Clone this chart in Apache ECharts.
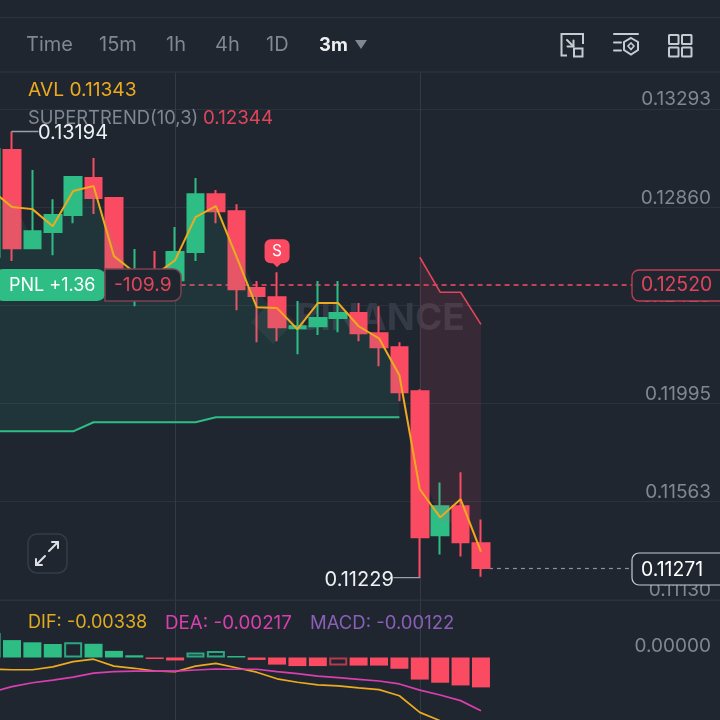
<!DOCTYPE html>
<html><head><meta charset="utf-8">
<style>html,body{margin:0;padding:0;background:#1f2630}#c{width:720px;height:720px}</style>
<script src="https://cdn.jsdelivr.net/npm/echarts@6/dist/echarts.min.js"></script>
</head><body><div id="c"></div>
<script>
const opens  = [.12641,.13112,.12680,.12751,.12826,.12989,.12901,.12526,.12561,.12539,.12663,.12918,.12843,.12504,.12464,.12327,.12336,.12372,.12394,.12305,.12244,.12050,.11415,.11543,.11380];
const closes = [.13117,.12680,.12755,.12826,.12993,.12901,.12526,.12561,.12539,.12663,.12918,.12843,.12499,.12469,.12332,.12336,.12372,.12394,.12305,.12244,.12045,.11406,.11543,.11384,.11271];
const lows   = [.12641,.12623,.12680,.12649,.12790,.12830,.12486,.12424,.12469,.12517,.12623,.12790,.12407,.12266,.12270,.12213,.12297,.12310,.12270,.12160,.12006,.11229,.11331,.11322,.11232];
const highs  = [.13117,.13194,.13024,.12896,.12998,.13077,.12901,.12676,.12667,.12773,.12989,.12936,.12874,.12535,.12574,.12447,.12535,.12535,.12438,.12424,.12266,.12059,.11648,.11693,.11485];
const avl    = [.12936,.12861,.12852,.12777,.12932,.12954,.12645,.12574,.12561,.12627,.12817,.12865,.12645,.12420,.12416,.12323,.12438,.12438,.12336,.12283,.12120,.11618,.11494,.11574,.11343];
const trendUp   = [.11873,.11873,.11873,.11873,.11873,.11913,.11913,.11913,.11913,.11913,.11913,.11935,.11935,.11935,.11935,.11935,.11935,.11935,.11935,.11935,.11935,null,null,null,null];
const trendDown = [null,null,null,null,null,null,null,null,null,null,null,null,null,null,null,null,null,null,null,null,null,.12640,.12486,.12486,.12344];
const bodyMid   = [.12878,.12896,.12718,.12788,.12909,.12945,.12715,.12544,.12552,.12601,.12790,.12881,.12671,.12486,.12398,.12332,.12354,.12383,.12350,.12275,.12145,.11728,.11479,.11463,.11322];
const macd = [.00100,.00071,.00062,.00055,.00062,.00056,.00027,.00009,-.00006,-.00012,.00020,.00027,.00006,-.00010,-.00029,-.00035,-.00035,-.00033,-.00033,-.00033,-.00046,-.00090,-.00103,-.00114,-.00122];
const macdHollow = [4,10,11,17];
const dif = [-.00047,-.00050,-.00050,-.00038,-.00017,-.00007,-.00035,-.00044,-.00055,-.00058,-.00035,-.00024,-.00042,-.00060,-.00087,-.00101,-.00112,-.00116,-.00124,-.00131,-.00156,-.00224,-.00258,-.00304,-.00338];
const dea = [-.00141,-.00119,-.00103,-.00092,-.00080,-.00064,-.00058,-.00056,-.00056,-.00056,-.00051,-.00047,-.00048,-.00048,-.00058,-.00066,-.00076,-.00082,-.00089,-.00096,-.00108,-.00133,-.00153,-.00176,-.00217];
const priceTicks = [.13293,.12860,.12428,.11995,.11563,.11130];
const tabs = ['Time','15m','1h','4h','1D'];
const entryPrice = .12520, lastPrice = .11271, hiPrice = .13194, loPrice = .11229;

const BG='#1f2630', GRID='#2b323d', RED='#fb4b63', GREEN='#2ebd85', YEL='#eeaa1f', GRAY='#7f8791', FONT='Inter, "Noto Sans", sans-serif';
const slots = 37, cats = Array.from({length:slots},(_,i)=>String(i));
const gaps = a => a.map(v=>v==null?'-':v);
const candles = opens.map((o,i)=>[o,closes[i],lows[i],highs[i]]);
const vLines = () => ({silent:true,symbol:'none',z:1,label:{show:false},lineStyle:{color:'#333a45',width:1,type:'solid'},data:[{xAxis:9},{xAxis:21}]});
const diff = (up,lo)=>up.map((v,i)=>(v==null||lo[i]==null)?null:v-lo[i]);
const redBase = bodyMid.map((v,i)=>trendDown[i]==null?null:v);

const option = {
  animation:false, backgroundColor:BG,
  grid:[{left:-18.6,top:72,width:754.43,height:528,outerBoundsMode:'none'},{left:-18.6,top:600,width:754.43,height:120,outerBoundsMode:'none'}],
  xAxis:[
    {type:'category',gridIndex:0,data:cats,show:false,boundaryGap:true},
    {type:'category',gridIndex:1,data:cats,show:false,boundaryGap:true}
  ],
  yAxis:[
    {type:'value',gridIndex:0,position:'right',offset:-15.8,min:.1113,max:.134561,
     axisLine:{show:false},axisTick:{show:false,customValues:priceTicks},
     splitLine:{show:true,lineStyle:{color:GRID,width:1}},
     axisLabel:{inside:true,customValues:priceTicks,color:GRAY,fontSize:19,fontFamily:FONT,margin:9,
       verticalAlign:'bottom',padding:[0,0,0,0],formatter:v=>v.toFixed(5)}},
    {type:'value',gridIndex:1,position:'right',offset:-15.8,min:-.002551,max:.002347,
     axisLine:{show:false},axisTick:{show:false,customValues:[0]},splitLine:{show:false},
     axisLabel:{inside:true,customValues:[0],color:GRAY,fontSize:19,fontFamily:FONT,margin:9,
       verticalAlign:'bottom',padding:[0,0,2,0],formatter:v=>v.toFixed(5)}}
  ],
  series:[
    {type:'line',name:'guides',data:[],z:1,markLine:vLines()},
    {type:'line',name:'levels',data:[],xAxisIndex:0,yAxisIndex:0,z:1,markLine:{silent:true,symbol:'none',z:1,label:{show:false},
      data:[
        [{coord:[0,entryPrice],lineStyle:{color:RED,type:[5,4],width:1.5}},{coord:[36,entryPrice]}],
        [{coord:[24,lastPrice],lineStyle:{color:'#8b929b',type:[4,4],width:1.2}},{coord:[36,lastPrice]}]
      ]}},
    {type:'candlestick',name:'price',data:candles,barWidth:17,z:2,
     itemStyle:{color:GREEN,color0:RED,borderColor:GREEN,borderColor0:RED,borderWidth:2}},
    {type:'line',name:'upLine',data:gaps(trendUp),stack:'up',symbol:'none',z:3,lineStyle:{color:GREEN,width:2}},
    {type:'line',name:'upFill',data:gaps(diff(bodyMid,trendUp)),stack:'up',symbol:'none',z:3,lineStyle:{width:0,opacity:0},areaStyle:{color:'rgba(46,189,133,0.10)',opacity:1}},
    {type:'line',name:'downBase',data:gaps(redBase),stack:'down',symbol:'none',z:3,lineStyle:{width:0,opacity:0}},
    {type:'line',name:'downFill',data:gaps(diff(trendDown,redBase)),stack:'down',symbol:'none',z:3,lineStyle:{width:0,opacity:0},areaStyle:{color:'rgba(251,75,99,0.11)',opacity:1}},
    {type:'line',name:'downLine',data:gaps(trendDown),symbol:'none',z:4,lineStyle:{color:'#e0455b',width:1.6}},
    {type:'line',name:'AVL',data:avl,symbol:'none',z:5,lineStyle:{color:YEL,width:2}},

    {type:'line',name:'guides2',xAxisIndex:1,yAxisIndex:1,data:[],z:1,markLine:vLines()},
    {type:'bar',name:'MACD',xAxisIndex:1,yAxisIndex:1,barWidth:18,z:2,
     data:macd.map((v,i)=>{
       const c=v>=0?GREEN:RED;
       return macdHollow.includes(i)
         ?{value:v,itemStyle:{color:BG,borderColor:v>=0?'#2aa880':'#b53a4f',borderWidth:2}}
         :{value:v,itemStyle:{color:c}};
     })},
    {type:'line',name:'DIF',xAxisIndex:1,yAxisIndex:1,data:dif,symbol:'none',z:3,lineStyle:{color:YEL,width:1.7}},
    {type:'line',name:'DEA',xAxisIndex:1,yAxisIndex:1,data:dea,symbol:'none',z:3,lineStyle:{color:'#d93fae',width:1.7}}
  ]
};
const chart = echarts.init(document.getElementById('c'),null,{renderer:'canvas'});
chart.setOption(option);

const px=(i,p)=>chart.convertToPixel({xAxisIndex:0,yAxisIndex:0},[i,p]);
const T=(x,y,text,fill,size,extra)=>({type:'text',z:60,x,y,style:Object.assign({text,fill,fontSize:size,fontFamily:FONT,verticalAlign:'middle',textAlign:'left'},extra||{})});
const L=(x1,y1,x2,y2,stroke,w,z)=>({type:'line',z:z||60,shape:{x1,y1,x2,y2},style:{stroke,lineWidth:w,lineCap:'round'}});
const R=(x,y,width,height,r,fill,stroke,w,z)=>({type:'rect',z:z||60,shape:{x,y,width,height,r},style:{fill,stroke,lineWidth:w||0}});
const ICON='#c6cbd2', ARROW='#dcdfe3';
const g=[];
g.push(L(0,17.5,720,17.5,GRID,1.2,1),L(0,72,720,72,GRID,1.5,1));
[[26],[99],[166],[215],[266]].forEach((p,i)=>g.push(T(p[0],45,tabs[i],GRAY,20)));
g.push(T(319,45,'3m','#eef0f2',18.5,{fontWeight:'bold'}));
g.push({type:'polygon',z:60,shape:{points:[[355,40],[367,40],[361,49]]},style:{fill:GRAY}});
g.push({type:'polyline',z:60,shape:{points:[[567,55.5],[561.5,55.5],[561.5,34],[583,34],[583,44]]},style:{stroke:ICON,lineWidth:2,fill:null}});
g.push(R(574,48.5,8.5,8,0,'transparent',ICON,2));
g.push(L(567,40,573,46,ICON,2),L(567.5,46.5,573.5,46.5,ICON,2),L(573.5,40.5,573.5,46.5,ICON,2));
g.push(L(614,34,638,34,ICON,2),L(614,42.5,621,42.5,ICON,2),L(614,50.5,621,50.5,ICON,2));
g.push({type:'polygon',z:60,shape:{points:[[631,38],[638,42],[638,50],[631,54.5],[624,50],[624,42]]},style:{stroke:ICON,lineWidth:2,fill:'transparent'}});
g.push({type:'polygon',z:60,shape:{points:[[631,43],[634,46],[631,49.5],[628,46]]},style:{stroke:ICON,lineWidth:1.6,fill:'transparent'}});
[[669,35],[682,35],[669,47.5],[682,47.5]].forEach(p=>g.push(R(p[0],p[1],9.5,9,0.5,'transparent',ICON,2)));
g.push(T(28,90.5,'AVL 0.11343',YEL,19.2));
g.push(T(28,118,'SUPERTREND(10,3)',GRAY,18.4),T(203,118,'0.12344','#e0455b',18.8));
g.push(T(28,623,'DIF: -0.00338','#e0ab1f',18.1),T(165,623,'DEA: -0.00217','#d93fae',18.8),T(310,623,'MACD: -0.00122','#8a5fb5',18.5));
[[273,322,22],[262,320,8],[284,320,8]].forEach(d=>g.push({type:'polygon',z:0,shape:{points:[[d[0],d[1]-d[2]],[d[0]+d[2],d[1]],[d[0],d[1]+d[2]],[d[0]-d[2],d[1]]]},style:{fill:'#2b323c'}}));
const wm=T(296,319,'BINANCE','#343b46',37,{fontWeight:'bold'}); wm.z=0; g.push(wm);
g.push(L(0,600,720,600,GRID,1,1));
const hi=px(1,hiPrice), lo=px(21,loPrice);
g.push(L(hi[0],hi[1],hi[0]+26,hi[1],'#9aa0a8',1.3),T(hi[0]+26,hi[1]+1,'0.13194','#eef0f2',20));
g.push(L(lo[0],lo[1],lo[0]-26,lo[1],'#9aa0a8',1.3),T(lo[0]-26,lo[1]+2,'0.11229','#eef0f2',20,{textAlign:'right'}));
const s=px(14,highs[14]);
g.push(R(s[0]-12.5,s[1]-33,25,24,6,RED,null,0),{type:'polygon',z:60,shape:{points:[[s[0]-5,s[1]-10],[s[0]+5,s[1]-10],[s[0],s[1]-5]]},style:{fill:RED}});
g.push(T(s[0],s[1]-21,'S','#ffffff',15.5,{textAlign:'center'}));
const e=px(0,entryPrice)[1];
g.push({type:'rect',z:60,shape:{x:-6,y:e-15.5,width:112,height:32,r:9},style:{fill:GREEN}});
g.push(R(105,e-15.5,76,32,[0,8,8,0],BG,'#7d4150',1.5));
g.push(T(9,e+1,'PNL +1.36','#ffffff',18),T(114,e+1,'-109.9','#e0455b',19.3));
g.push(R(632,e-14.5,96,31,7,BG,'#c43c53',1.3),T(641,e+1,'0.12520','#e0455b',19.4));
const l=px(24,lastPrice)[1];
g.push(R(632,l-15,96,32,7,BG,'#c6cbd2',1.2),T(641,l+2.5,'0.11271','#ffffff',19.4));
g.push(R(28,534,39,39,9,'transparent','#353c48',1.5));
g.push(L(49,551,58,542,ARROW,2),L(52,542,58,542,ARROW,2),L(58,542,58,548,ARROW,2));
g.push(L(36,565,45,556,ARROW,2),L(36,559,36,565,ARROW,2),L(36,565,42,565,ARROW,2));
chart.setOption({graphic:{elements:g}});
</script></body></html>
